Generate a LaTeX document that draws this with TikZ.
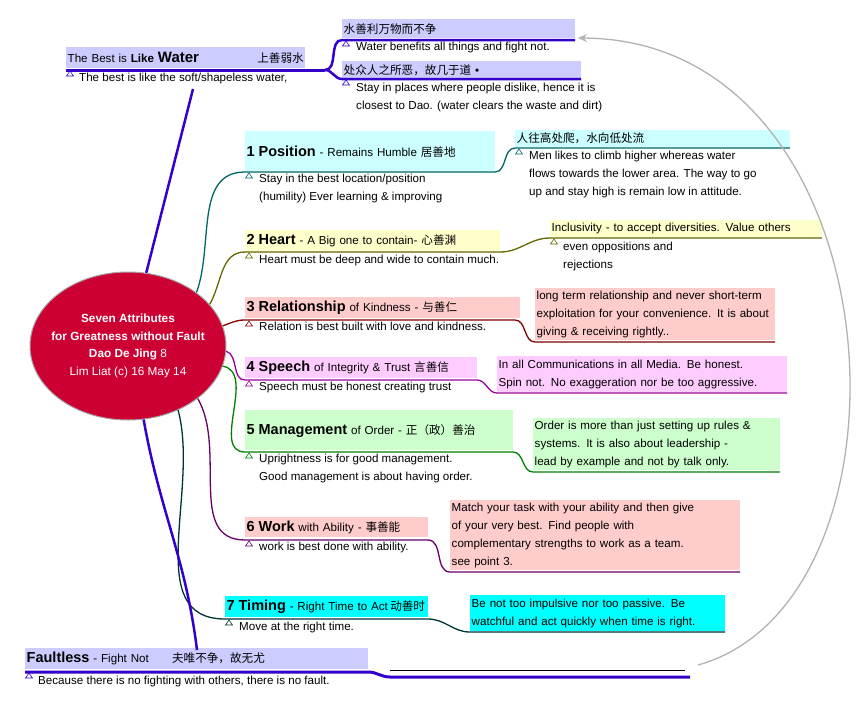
\documentclass[tikz,border=0pt]{standalone}
\usepackage{fontspec}
\setmainfont{Liberation Sans}
\newfontfamily\cjk{Noto Sans CJK SC}
\usetikzlibrary{shapes.geometric,arrows.meta}
\definecolor{wblue}{HTML}{3300CC}
\definecolor{lav}{HTML}{CCCCFF}
\definecolor{lcyan}{HTML}{CCFFFF}
\definecolor{fcyan}{HTML}{00FFFF}
\definecolor{lyel}{HTML}{FFFFCC}
\definecolor{lpink}{HTML}{FFCCCC}
\definecolor{lmag}{HTML}{FFCCFF}
\definecolor{lgrn}{HTML}{CCFFCC}
\definecolor{cteal}{HTML}{006666}
\definecolor{colive}{HTML}{666600}
\definecolor{cred}{HTML}{800000}
\definecolor{cpur}{HTML}{990099}
\definecolor{cgrn}{HTML}{008000}
\definecolor{cpur2}{HTML}{660066}
\definecolor{cdk}{HTML}{003333}
\definecolor{crim}{HTML}{CC0033}
\newcommand{\hdfont}{\fontsize{14.5}{15}\selectfont\bfseries}
\begin{document}
\begin{tikzpicture}[x=1pt,y=-1pt,
  box/.style={anchor=north west, inner xsep=1.5pt, inner ysep=0pt, align=left, font=\fontsize{11.6}{18}\selectfont},
  txt/.style={anchor=north west, inner sep=0pt, align=left, font=\fontsize{11.6}{18}\selectfont},
  br/.style={line width=1.3pt},
  tri/.style={line width=0.6pt}]
\useasboundingbox (0,0) rectangle (864,710);
\newcommand{\mk}[2]{\draw[tri,#1] (#2) ++(0,-1) -- ++(-3.5,5) -- ++(7,0) -- cycle;}

% central ellipse
\node[ellipse, fill=crim, draw=gray!70, line width=1pt, minimum width=196pt, minimum height=148pt, inner sep=0pt] (ell) at (128,346) {};
\node[text=white, align=center, font=\fontsize{11.8}{17.5}\selectfont, inner sep=0pt] (elltxt) at (ell.center)
  {\textbf{Seven Attributes}\\ \textbf{for Greatness without Fault}\\ \textbf{Dao De Jing} 8\\ Lim Liat (c) 16 May 14};

% ===== Water =====
\node[box, fill=lav, minimum width=239pt, minimum height=21pt, text width=236pt] (wat) at (66,47)
  {The Best is \textbf{Like} {\fontsize{15}{15}\selectfont\bfseries Water}\hfill{\cjk 上善弱水}\hspace*{12pt}};
\coordinate (w0) at (66,70); \coordinate (w1) at (325,70); \coordinate (wj) at (193,89);
\draw[wblue, line width=3pt] (w0) -- (w1);
\draw[wblue, line width=2.5pt] (ell.76) -- (wj);
\mk{wblue}{70,72}
\node[txt] (watt) at (79,73) {The best is like the soft/shapeless water,};
\node[box, fill=lav, minimum width=233pt, minimum height=19pt, text width=230pt] (wa) at (342,19) {\cjk 水善利万物而不争};
\node[box, fill=lav, minimum width=239pt, minimum height=18pt, text width=236pt] (wb) at (342,61) {{\cjk 处众人之所恶，故几于道} •};
\coordinate (wa1) at (575,40); \coordinate (wb1) at (581,79);
\draw[wblue, line width=2.5pt] (w1) to[out=0,in=180] (342,40) -- (wa1);
\draw[wblue, line width=2.5pt] (w1) to[out=0,in=180] (342,79) -- (wb1);
\mk{wblue}{346,42}
\node[txt] (wat2) at (356,42) {Water benefits all things and fight not.};
\mk{wblue}{346,81}
\node[txt] (wbt) at (356,83) {Stay in places where people dislike, hence it is\\closest to Dao. (water clears the waste and dirt)};

% ===== 1 Position =====
\node[box, fill=lcyan, minimum width=250pt, minimum height=40pt, text width=247pt] (p1) at (245,131)
  {\rule{0pt}{12pt}{\hdfont 1 Position} - Remains Humble {\cjk 居善地}};
\draw[cteal, br] (ell.38) to[out=70,in=180] (245,172) -- (495,172) to[out=0,in=180] (515,148) -- (790,148);
\mk{cteal}{249,174}
\node[txt] (p1t) at (259,174) {Stay in the best location/position\\(humility) Ever learning \& improving};
\node[box, fill=lcyan, minimum width=275pt, minimum height=17pt, text width=272pt] (p1b) at (515,130) {\cjk 人往高处爬，水向低处流};
\mk{cteal}{519,150}
\node[txt] (p1bt) at (529,151) {Men likes to climb higher whereas water\\flows towards the lower area. The way to go\\up and stay high is remain low in attitude.};

% ===== 2 Heart =====
\node[box, fill=lyel, minimum width=255pt, minimum height=21pt, text width=252pt] (p2) at (245,230)
  {{\hdfont 2 Heart} - A Big one to contain- {\cjk 心善渊}};
\draw[colive, br] (ell.27) to[out=60,in=180] (245,252) -- (500,252) to[out=0,in=180] (550,238) -- (822,238);
\mk{colive}{249,254}
\node[txt] (p2t) at (259,255) {Heart must be deep and wide to contain much.};
\node[box, fill=lyel, minimum width=272pt, minimum height=17pt, text width=269pt] (p2b) at (550,220) {Inclusivity - to accept diversities. Value others};
\mk{colive}{554,240}
\node[txt] (p2bt) at (563,242) {even oppositions and\\rejections};

% ===== 3 Relationship =====
\node[box, fill=lpink, minimum width=275pt, minimum height=21pt, text width=272pt] (p3) at (245,297)
  {{\hdfont 3 Relationship} of Kindness - {\cjk 与善仁}};
\draw[cred, br] (ell.12) to[out=20,in=180] (245,320) -- (515,320) to[out=0,in=180] (535,342) -- (775,342);
\mk{cred}{249,322}
\node[txt] (p3t) at (259,322) {Relation is best built with love and kindness.};
\node[box, fill=lpink, minimum width=240pt, minimum height=52pt, text width=237pt] (p3b) at (535,288)
  {long term relationship and never short-term\\exploitation for your convenience. It is about\\giving \& receiving rightly..};

% ===== 4 Speech =====
\node[box, fill=lmag, minimum width=232pt, minimum height=21pt, text width=229pt] (p4) at (245,357)
  {{\hdfont 4 Speech} of Integrity \& Trust {\cjk 言善信}};
\draw[cpur, br] (ell.-3) to[out=-20,in=180] (245,380) -- (477,380) to[out=0,in=180] (497,393) -- (787,393);
\mk{cpur}{249,382}
\node[txt] (p4t) at (259,382) {Speech must be honest creating trust};
\node[box, fill=lmag, minimum width=290pt, minimum height=36pt, text width=287pt] (p4b) at (497,356)
  {In all Communications in all Media. Be honest.\\Spin not. No exaggeration nor be too aggressive.};

% ===== 5 Management =====
\node[box, fill=lgrn, minimum width=268pt, minimum height=40pt, text width=265pt] (p5) at (245,410)
  {\rule{0pt}{12pt}{\hdfont 5 Management} of Order - {\cjk 正（政）善治}};
\draw[cgrn, br] (ell.-12) to[out=-10,in=180] (245,452) -- (513,452) to[out=0,in=180] (533,472) -- (780,472);
\mk{cgrn}{249,454}
\node[txt] (p5t) at (259,454) {Uprightness is for good management.\\Good management is about having order.};
\node[box, fill=lgrn, minimum width=247pt, minimum height=52pt, text width=244pt] (p5b) at (533,418)
  {Order is more than just setting up rules \&\\systems. It is also about leadership -\\lead by example and not by talk only.};

% ===== 6 Work =====
\node[box, fill=lpink, minimum width=183pt, minimum height=20pt, text width=180pt] (p6) at (245,517)
  {{\hdfont 6 Work} with Ability - {\cjk 事善能}};
\draw[cpur2, br] (ell.-37) to[out=-60,in=180] (245,540) -- (428,540) to[out=0,in=180] (450,572) -- (740,572);
\mk{cpur2}{249,542}
\node[txt] (p6t) at (259,542) {work is best done with ability.};
\node[box, fill=lpink, minimum width=290pt, minimum height=70pt, text width=287pt] (p6b) at (450,500)
  {Match your task with your ability and then give\\of your very best. Find people with\\complementary strengths to work as a team.\\see point 3.};

% ===== 7 Timing =====
\node[box, fill=fcyan, minimum width=203pt, minimum height=21pt, text width=200pt] (p7) at (225,596)
  {{\hdfont 7 Timing} - Right Time to Act\hspace{0.2em}{\cjk 动善时}\hspace*{-20pt}};
\draw[cdk, br] (ell.-52) to[out=-75,in=180] (225,619) -- (428,619) to[out=0,in=180] (470,632) -- (725,632);
\mk{cdk}{229,621}
\node[txt] (p7t) at (239,622) {Move at the right time.};
\node[box, fill=fcyan, minimum width=255pt, minimum height=36pt, text width=252pt] (p7b) at (470,595)
  {Be not too impulsive nor too passive. Be\\watchful and act quickly when time is right.};

% ===== Faultless =====
\node[box, fill=lav, minimum width=343pt, minimum height=21pt, text width=340pt] (ft) at (25,648)
  {{\hdfont Faultless} - Fight Not\hspace{2em}{\cjk 夫唯不争，故无尤}};
\coordinate (fj) at (197,650);
\draw[wblue, line width=2.5pt] (ell.-78) to[out=-80,in=97] (fj);
\draw[wblue, line width=3pt] (25,672) -- (368,672) to[out=0,in=180] (390,677) -- (690,677);
\mk{wblue}{29,674}
\node[txt] (ftt) at (38,676) {Because there is no fighting with others, there is no fault.};
\coordinate (u0) at (390,670); \coordinate (u1) at (685,670);
\draw[black, line width=0.6pt] (u0) -- (u1);

% return arc
\coordinate (r0) at (698,665); \coordinate (r1) at (578,38);
\draw[gray!60, line width=1.3pt, -{Stealth[length=9pt,width=8pt,open]}] (r0) .. controls (930,600) and (900,40) .. (r1);
\end{tikzpicture}
\end{document}
